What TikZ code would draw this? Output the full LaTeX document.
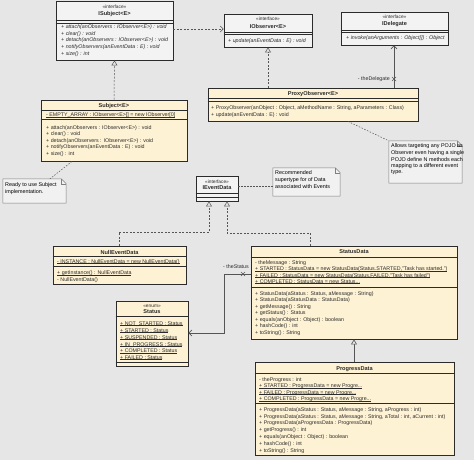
\documentclass[tikz,border=0pt]{standalone}
\usepackage{fontspec}
\setmainfont{Liberation Sans}
\usetikzlibrary{arrows.meta,fit}
\definecolor{bg}{HTML}{E6E6E6}
\definecolor{cream}{HTML}{FEF2D4}
\definecolor{ifc}{HTML}{F3F3F3}
\definecolor{notefill}{HTML}{F1F1F1}
\definecolor{ink}{HTML}{2B2B2B}
\definecolor{linec}{HTML}{555555}
\newsavebox\umlulbox
\newcommand\umlul[1]{\sbox\umlulbox{#1}\rlap{\rule[-0.8pt]{\wd\umlulbox}{0.35pt}}\usebox\umlulbox}
\tikzset{
 box/.style={draw=ink, line width=0.9pt, inner sep=0pt},
 cls/.style={box, fill=cream},
 ifbox/.style={box, fill=ifc},
 sep/.style={draw=ink, line width=0.5pt},
 txt/.style={anchor=base west, inner sep=0pt, font=\fontsize{5.3}{6}\selectfont, text=ink},
 ttl/.style={inner sep=0pt, font=\fontsize{5.6}{6}\selectfont\bfseries, text=ink},
 stereo/.style={inner sep=0pt, font=\fontsize{4.8}{5}\selectfont, text=ink},
 notetxt/.style={anchor=west, inner sep=0pt, font=\fontsize{5.4}{6}\selectfont, text=black},
 dep/.style={draw=linec, line width=0.5pt, dash pattern=on 2pt off 1.5pt, -{Straight Barb[length=3pt,width=6pt]}},
 real/.style={draw=linec, line width=0.5pt, dash pattern=on 2pt off 1.5pt, -{Triangle[length=5pt,width=6pt,fill=bg]}},
 gen/.style={draw=linec, line width=0.6pt, -{Triangle[length=5pt,width=6pt,fill=bg]}},
 assoc/.style={draw=linec, line width=0.6pt, -{Straight Barb[length=3pt,width=6pt]}},
 noteline/.style={draw=linec, line width=0.5pt, dash pattern=on 1.5pt off 1.5pt},
}
\newcommand\umlbox[6]{\node[fit={(#2,#3) (#4,#5)}, #6] (#1) {};}
\newcommand\umlsep[2]{\draw[sep] (#1.west |- 0,#2) -- (#1.east |- 0,#2);}
\newcommand\umlline[3]{\node[txt] at (#1,#2+2) {#3};}
\newcommand\umlnote[5]{%
 \node[fit={(#2,#3) (#4,#5)}, inner sep=0pt] (#1) {};
 \draw[draw=gray, line width=0.5pt, fill=notefill] (#1.north west) -- ([xshift=-5pt]#1.north east) -- ([yshift=-5pt]#1.north east) -- (#1.south east) -- (#1.south west) -- cycle;
 \draw[draw=gray, line width=0.5pt] ([xshift=-5pt]#1.north east) -- ([xshift=-5pt,yshift=-5pt]#1.north east) -- ([yshift=-5pt]#1.north east);}
\begin{document}
\begin{tikzpicture}[x=1pt,y=-1pt]
\fill[bg] (0,0) rectangle (474,460);
\useasboundingbox (0,0) rectangle (474,460);

% ISubject
\umlbox{ISubject}{56}{1}{173}{60}{ifbox}
\umlsep{ISubject}{20}\umlsep{ISubject}{23}
\node[stereo] (isubst) at (114.5,7) {<<interface>>};
\node[ttl] (isubname) at (114.5,14) {ISubject<E>};
\umlline{61}{27}{\itshape + attach(anObservers : IObserver<E>) : void}
\umlline{61}{33.5}{\itshape + clear() : void}
\umlline{61}{40}{\itshape + detach(anObservers : IObserver<E>) : void}
\umlline{61}{47}{\itshape + notifyObservers(anEventData : E) : void}
\umlline{61}{53.5}{\itshape + size() : int}

% IObserver
\umlbox{IObserver}{224}{14}{312}{47}{ifbox}
\umlsep{IObserver}{32}\umlsep{IObserver}{34.5}
\node[stereo] (iobsst) at (268,19) {<<interface>>};
\node[ttl] (iobsname) at (268,26.5) {IObserver<E>};
\umlline{228}{41}{\itshape + update(anEventData : E) : void}

% IDelegate
\umlbox{IDelegate}{341}{12}{448}{45}{ifbox}
\umlsep{IDelegate}{30}\umlsep{IDelegate}{32.5}
\node[stereo] (idelst) at (394.5,17) {<<interface>>};
\node[ttl] (idelname) at (394.5,24) {IDelegate};
\umlline{346}{38}{\itshape + invoke(anArguments : Object[]) : Object}

% Subject
\umlbox{Subject}{41}{100}{187}{161}{cls}
\umlsep{Subject}{110}\umlsep{Subject}{119.5}
\node[ttl] (subname) at (114,106) {Subject<E>};
\umlline{46}{115}{\umlul{- EMPTY\_ARRAY : IObserver<E>[] = new IObserver[0]}}
\umlline{46}{127}{+ attach(anObservers : IObserver<E>) : void}
\umlline{46}{133.5}{+ clear() : void}
\umlline{46}{140}{+ detach(anObservers : IObserver<E>) : void}
\umlline{46}{146.5}{+ notifyObservers(anEventData : E) : void}
\umlline{46}{153}{+ size() : int}

% ProxyObserver
\umlbox{ProxyObserver}{208}{88}{418}{121}{cls}
\umlsep{ProxyObserver}{98.5}\umlsep{ProxyObserver}{101}
\node[ttl] (proxname) at (313,94) {ProxyObserver<E>};
\umlline{211}{108}{+ ProxyObserver(anObject : Object, aMethodName : String, aParameters : Class)}
\umlline{211}{114.5}{+ update(anEventData : E) : void}

% IEventData
\umlbox{IEventData}{196}{176}{238}{201}{ifbox}
\umlsep{IEventData}{193}\umlsep{IEventData}{197}
\node[stereo] (ievst) at (217,182) {<<interface>>};
\node[ttl] (ievname) at (217,188) {IEventData};

% NullEventData
\umlbox{NullEventData}{53}{246}{186}{284}{cls}
\umlsep{NullEventData}{256.5}\umlsep{NullEventData}{266.5}
\node[ttl] (nullname) at (119.5,252) {NullEventData};
\umlline{57}{261}{\umlul{- INSTANCE : NullEventData = new NullEventData()}}
\umlline{57}{272.5}{\umlul{+ getInstance() : NullEventData}}
\umlline{57}{279}{- NullEventData()}

% Status
\umlbox{Status}{116}{301}{188}{366}{cls}
\umlsep{Status}{316.5}\umlsep{Status}{362}
\node[stereo] (statst) at (152,306) {<<enum>>};
\node[ttl] (statname) at (152,312) {Status};
\umlline{120}{323}{\umlul{+ NOT\_STARTED : Status}}
\umlline{120}{330}{\umlul{+ STARTED : Status}}
\umlline{120}{337}{\umlul{+ SUSPENDED : Status}}
\umlline{120}{344}{\umlul{+ IN\_PROGRESS : Status}}
\umlline{120}{350.5}{\umlul{+ COMPLETED : Status}}
\umlline{120}{357}{\umlul{+ FAILED : Status}}

% StatusData
\umlbox{StatusData}{251}{246}{457}{339}{cls}
\umlsep{StatusData}{257}\umlsep{StatusData}{287}
\node[ttl] (sdname) at (354,252) {StatusData};
\umlline{255}{262.5}{- theMessage : String}
\umlline{255}{268.5}{\umlul{+ STARTED : StatusData = new StatusData(Status.STARTED,"Task has started.")}}
\umlline{255}{275}{\umlul{+ FAILED : StatusData = new StatusData(Status.FAILED,"Task has failed")}}
\umlline{255}{281}{\umlul{+ COMPLETED : StatusData = new Status...}}
\umlline{255}{293}{+ StatusData(aStatus : Status, aMessage : String)}
\umlline{255}{299.5}{+ StatusData(aStatusData : StatusData)}
\umlline{255}{306}{+ getMessage() : String}
\umlline{255}{312.5}{+ getStatus() : Status}
\umlline{255}{319}{+ equals(anObject : Object) : boolean}
\umlline{255}{325.5}{+ hashCode() : int}
\umlline{255}{332}{+ toString() : String}

% ProgressData
\umlbox{ProgressData}{255}{362}{454}{455}{cls}
\umlsep{ProgressData}{373.5}\umlsep{ProgressData}{403}
\node[ttl] (pdname) at (354.5,369) {ProgressData};
\umlline{259}{379}{- theProgress : int}
\umlline{259}{385.5}{\umlul{+ STARTED : ProgressData = new Progre...}}
\umlline{259}{392}{\umlul{+ FAILED : ProgressData = new Progre...}}
\umlline{259}{398.5}{\umlul{+ COMPLETED : ProgressData = new Progre...}}
\umlline{259}{409}{+ ProgressData(aStatus : Status, aMessage : String, aProgress : int)}
\umlline{259}{416}{+ ProgressData(aStatus : Status, aMessage : String, aTotal : int, aCurrent : int)}
\umlline{259}{422.5}{+ ProgressData(aProgressData : ProgressData)}
\umlline{259}{429}{+ getProgress() : int}
\umlline{259}{436}{+ equals(anObject : Object) : boolean}
\umlline{259}{443}{+ hashCode() : int}
\umlline{259}{450}{+ toString() : String}

% Notes
\umlnote{NoteA}{3}{179}{66}{203}
\node[notetxt] (na1) at (5,185) {Ready to use Subject};
\node[notetxt] (na2) at (5,192) {implementation.};
\umlnote{NoteB}{389}{141}{462}{183}
\node[notetxt] (nb1) at (391,146.5) {Allows targeting any POJO as};
\node[notetxt] (nb2) at (391,153) {Observer even having a single};
\node[notetxt] (nb3) at (391,159.5) {POJO define N methods each};
\node[notetxt] (nb4) at (391,166) {mapping to a different event};
\node[notetxt] (nb5) at (391,172.5) {type.};
\umlnote{NoteC}{273}{168}{340}{196}
\node[notetxt] (nc1) at (275,173) {Recommended};
\node[notetxt] (nc2) at (275,180) {supertype for of Data};
\node[notetxt] (nc3) at (275,187) {associated with Events};

% Connectors
\draw[dep] (ISubject.east |- 0,29) -- (IObserver.west |- 0,29);
\draw[real] (Subject.north) -- (ISubject.south);
\draw[real] (ProxyObserver.north -| 268,0) -- (IObserver.south -| 268,0);
\draw[assoc] (ProxyObserver.north -| 394,0) -- (IDelegate.south -| 394,0);
\node[txt, anchor=base east] (deleglbl) at (390,81) {- theDelegate};
\draw[linec, line width=0.5pt] (392,77) -- (396,81) (392,81) -- (396,77);
\draw[noteline] (Subject.south -| 72,0) -- (NoteA.north -| 50,0);
\draw[noteline] (ProxyObserver.south -| 348,0) -- (NoteB.north west);
\draw[noteline] (IEventData.east |- 0,186) -- (NoteC.west |- 0,186);
\draw[real] (NullEventData.north -| 119,0) -- (119,232) -- (209,232) -- (IEventData.south -| 209,0);
\draw[real] (StatusData.north -| 310,0) -- (310,233) -- (227,233) -- (IEventData.south -| 227,0);
\draw[assoc] (StatusData.west |- 0,274) -- (224,274) -- (224,333) -- (Status.east |- 0,333);
\node[txt, anchor=base east] (statlbl) at (249,268) {- theStatus};
\draw[linec, line width=0.5pt] (241,272) -- (245,276) (241,276) -- (245,272);
\draw[gen] (ProgressData.north -| 354,0) -- (StatusData.south -| 354,0);
\end{tikzpicture}
\end{document}
